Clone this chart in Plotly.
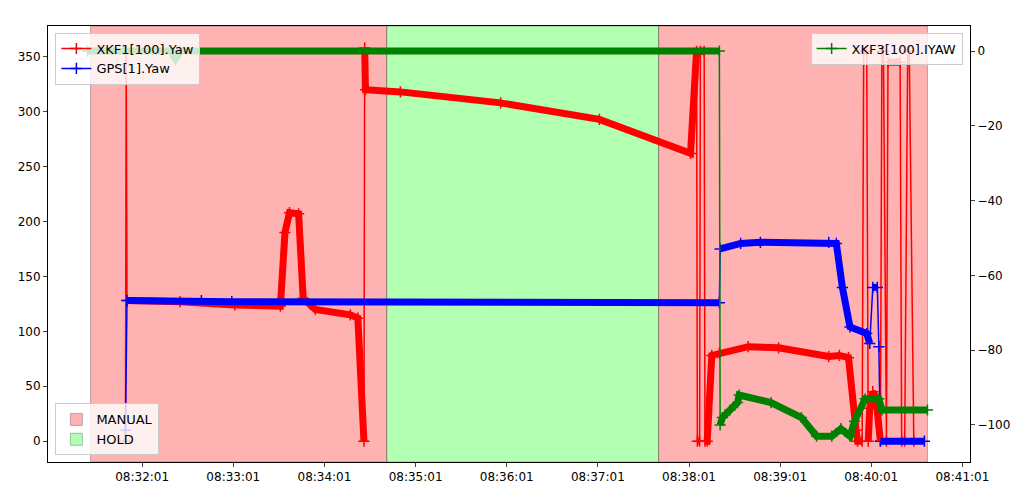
import plotly.graph_objects as go

D = "2020-01-01 "
# XKF1[100].Yaw (left axis)
xkf1_t = ["08:31:50","08:31:50.5","08:31:51","08:32:26","08:33:02","08:33:32","08:33:35","08:33:38","08:33:44","08:33:47",
          "08:33:55","08:34:18","08:34:23","08:34:27","08:34:27.5","08:34:28","08:34:51","08:35:57","08:37:02","08:38:02",
          "08:38:06","08:38:06.5","08:38:08","08:38:08.5","08:38:11","08:38:11.5","08:38:13","08:38:16","08:38:21","08:38:40",
          "08:39:00","08:39:33","08:39:40","08:39:46","08:39:51","08:39:52","08:39:55","08:39:56","08:39:58","08:39:59",
          "08:40:00","08:40:02","08:40:04","08:40:07","08:40:08","08:40:09","08:40:11","08:40:12","08:40:20","08:40:21",
          "08:40:23","08:40:25","08:40:26","08:40:29"]
xkf1_v = [0,355,128,127,124,123,190,208,207,130,
          120,115,112,0,358,320,318,308,293,262,
          355,0,0,355,355,0,0,78,80,86,
          85,77,78,76,10,0,0,355,355,0,
          30,45,40,0,355,355,0,345,345,0,
          0,355,355,0]
# GPS[1].Yaw (left axis)
gps_t = ["08:31:50","08:31:51","08:32:40","08:33:00","08:38:21","08:38:21.5","08:38:35","08:38:48","08:39:33","08:39:38",
         "08:39:42","08:39:47","08:39:58","08:40:00","08:40:02","08:40:05","08:40:06","08:40:07","08:40:36"]
gps_v = [10,128,128,127,126,175,180,181,181,180,
         140,104,98,89,140,140,86,0,0]
# XKF3[100].IYAW (right axis)
xkf3_t = ["08:31:25","08:32:20","08:32:23","08:32:26","08:38:21","08:38:21.5","08:38:23","08:38:28","08:38:33","08:38:34",
          "08:38:55","08:39:15","08:39:25","08:39:35","08:39:41","08:39:47","08:39:50","08:39:57","08:40:06","08:40:08","08:40:38"]
xkf3_v = [0,0,-2,0,0,-100,-98,-96,-94,-92,
          -94,-98,-103,-103,-101,-103,-99,-93,-93,-96,-96]
modes = ["MANUAL","HOLD","MANUAL"]
mode_start = ["08:31:27","08:34:42","08:37:41"]
mode_end = ["08:34:42","08:37:41","08:40:38"]
mode_color = {"MANUAL":"rgba(255,0,0,0.3)","HOLD":"rgba(0,255,0,0.3)"}
xticks = ["08:32:01","08:33:01","08:34:01","08:35:01","08:36:01","08:37:01","08:38:01","08:39:01","08:40:01","08:41:01"]

fig = go.Figure()
shown = set()
for m, s, e in zip(modes, mode_start, mode_end):
    fig.add_shape(type="rect", xref="x", yref="paper", x0=D+s, x1=D+e, y0=0, y1=1,
                  fillcolor=mode_color[m], line=dict(width=1, color="rgba(0,0,0,0.25)"), layer="below",
                  name=m, showlegend=m not in shown, legend="legend3")
    shown.add(m)

def tr(t, v, name, color, yaxis, leg):
    fig.add_trace(go.Scatter(x=[D+x for x in t], y=v, name=name, yaxis=yaxis, legend=leg,
                             mode="lines+markers", line=dict(color=color, width=1.5),
                             marker=dict(symbol="cross-thin", size=8, line=dict(color=color, width=1.5))))

def thick(t, v, c, ya, jump):
    xs, ys = [], []
    for i in range(len(t)):
        if i > 0 and abs(v[i] - v[i-1]) > jump:
            xs.append(None); ys.append(None)
        xs.append(D + t[i]); ys.append(v[i])
    fig.add_trace(go.Scatter(x=xs, y=ys, yaxis=ya, mode="lines", showlegend=False,
                             line=dict(color=c, width=7), hoverinfo="skip"))

tr(xkf1_t, xkf1_v, "XKF1[100].Yaw", "red", "y", "legend")
tr(gps_t, gps_v, "GPS[1].Yaw", "blue", "y", "legend")
tr(xkf3_t, xkf3_v, "XKF3[100].IYAW", "green", "y2", "legend2")
thick(xkf1_t, xkf1_v, "red", "y", 150)
thick(gps_t, gps_v, "blue", "y", 40)
thick(xkf3_t, xkf3_v, "green", "y2", 50)

legstyle = dict(bgcolor="rgba(255,255,255,0.8)", bordercolor="#cccccc", borderwidth=1,
                font=dict(family="DejaVu Sans", size=13, color="black"))
fig.update_layout(
    width=1035, height=504, margin=dict(l=40, r=73, t=18, b=50, autoexpand=False),
    plot_bgcolor="white", paper_bgcolor="white",
    font=dict(family="DejaVu Sans", size=12, color="black"),
    xaxis=dict(type="date", range=[D+"08:30:59", D+"08:41:06"], tickvals=[D+x for x in xticks], ticktext=xticks,
               showgrid=False, showline=True, linecolor="black", mirror=True, ticks="outside", ticklen=4, zeroline=False),
    yaxis=dict(range=[-19, 378], tickvals=[0,50,100,150,200,250,300,350], showgrid=False, showline=True,
               linecolor="black", ticks="outside", ticklen=4, zeroline=False),
    yaxis2=dict(range=[-109.9, 6.7], overlaying="y", side="right", tickvals=[0,-20,-40,-60,-80,-100],
                ticktext=["0","−20","−40","−60","−80","−100"], showgrid=False, showline=True,
                linecolor="black", ticks="outside", ticklen=4, zeroline=False),
    legend=dict(x=0.008, y=0.985, xanchor="left", yanchor="top", **legstyle),
    legend2=dict(x=0.992, y=0.985, xanchor="right", yanchor="top", **legstyle),
    legend3=dict(x=0.008, y=0.015, xanchor="left", yanchor="bottom", **legstyle),
)
fig.write_html("out.html")
